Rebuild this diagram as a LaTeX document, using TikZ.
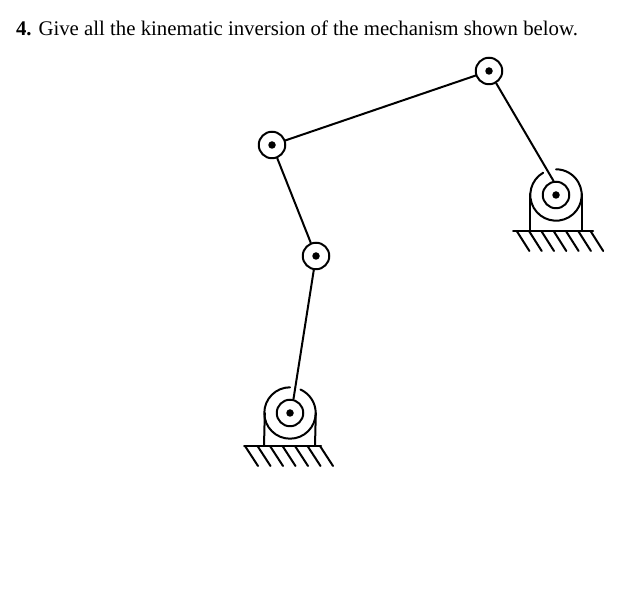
\documentclass[tikz,border=0pt]{standalone}
\usepackage{fontspec}
\setmainfont{Liberation Serif}
\tikzset{
    pin/.style = {circle, draw, fill = white, inner sep = 0pt, minimum size = 0.53cm},
    dot/.style = {circle, fill = black, inner sep = 0pt, minimum size = 0.15cm}
}
\begin{document}
\begin{tikzpicture}[
        x = 0.02cm,
        y = 0.02cm,
        line width = 0.4mm,
        line cap = round
    ]
        \useasboundingbox (0,0) rectangle (635,601);
        \node[anchor = base west, inner sep = 0pt, font = \fontsize{11.84pt}{14pt}\selectfont] (title) at (15,565) {\textbf{4.} Give all the kinematic inversion of the mechanism shown below.};

        % joints
        \node[pin] (jointa) at (272,456) {};
        \node[pin] (jointb) at (489,530) {};
        \node[pin] (jointc) at (316,345) {};
        \node[pin] (baser) at (556,406) {};
        \node[pin] (basel) at (290,188) {};
        \foreach \n in {jointa, jointb, jointc, baser, basel}
            \node[dot] (\n dot) at (\n) {};

        % links
        \draw (basel.76) -- (jointc);
        \draw (jointc) -- (jointa);
        \draw (jointa) -- (jointb);
        \draw (jointb) -- (baser.100);

        % right support
        \draw (baser) ++(120:25.7) arc[start angle = 120, end angle = 450, radius = 25.7];
        \coordinate (groundra) at (513,370);
        \coordinate (groundrb) at (593,370);
        \draw (groundra) -- (groundrb);
        \draw (530,370) -- (530,407);
        \draw (581.7,370) -- (581.7,407);
        \foreach \x in {516.7, 529, 541.3, 553.6, 565.9, 578.2, 590.5}
            \draw (\x,370) -- ++(12.7,-20);

        % left support
        \draw (basel) ++(90:25.7) arc[start angle = 90, end angle = 426, radius = 25.7];
        \coordinate (groundla) at (244,155);
        \coordinate (groundlb) at (321,155);
        \draw (groundla) -- (groundlb);
        \draw (264,155) -- (264.8,188);
        \draw (315,155) -- (315.8,188);
        \foreach \x in {245, 257.5, 270, 282.5, 295, 307.5, 320}
            \draw (\x,155) -- ++(13,-20);
    \end{tikzpicture}
\end{document}
